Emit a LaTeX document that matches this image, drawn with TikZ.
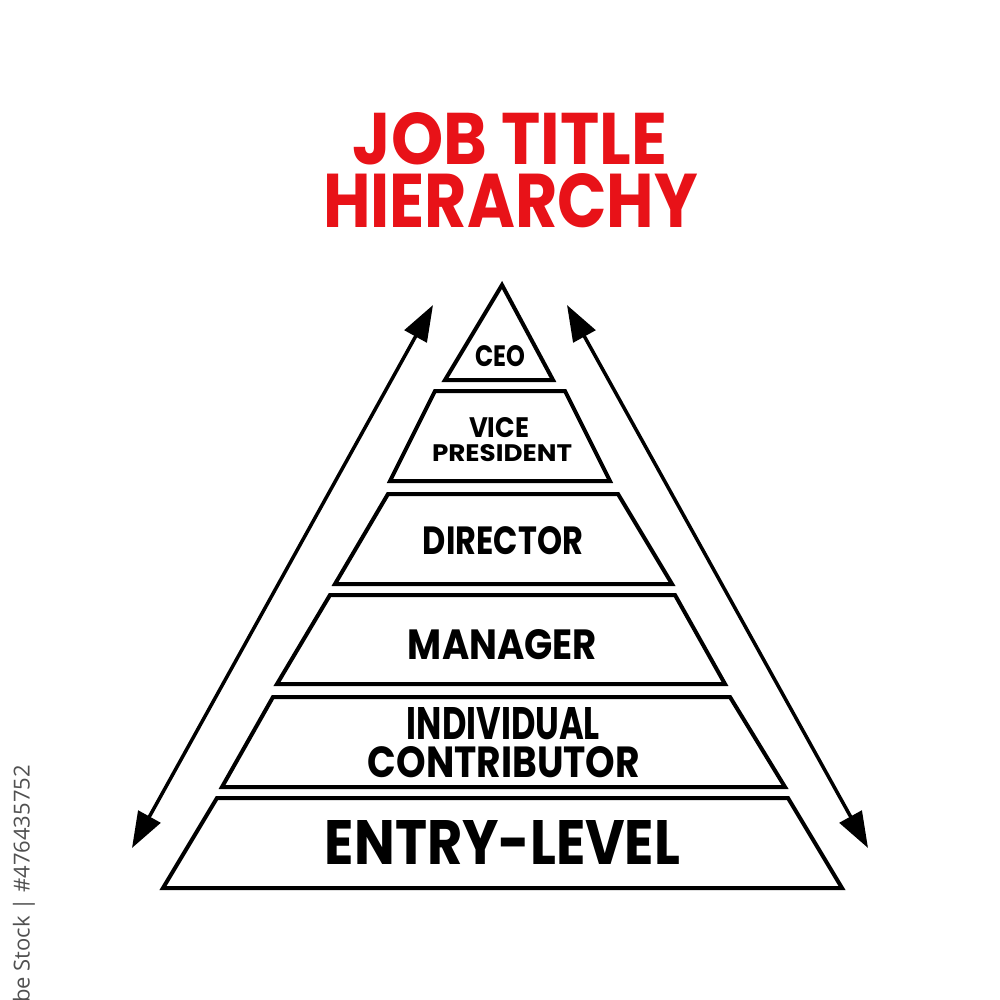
\documentclass[tikz,border=0pt]{standalone}
\usepackage{fontspec}
\setmainfont{Poppins}
\newfontfamily\wmfont{Open Sans}
\usetikzlibrary{arrows.meta}
\definecolor{titlered}{RGB}{232,18,24}
\definecolor{wmgray}{RGB}{80,80,80}
\tikzset{
  layer/.style={draw=black, line width=4pt, line join=miter, fill=white},
  lbl/.style={inner sep=0pt, outer sep=0pt, font=\bfseries, text=black},
  ttl/.style={inner sep=0pt, outer sep=0pt, font=\bfseries, text=titlered},
  dbl/.style={line width=3.5pt, {Triangle[length=36pt,width=25pt]}-{Triangle[length=36pt,width=25pt]}},
}
\newcommand{\fitbox}[3]{\resizebox{#1pt}{#2pt}{#3}}
\begin{document}
\begin{tikzpicture}[x=1pt,y=-1pt]
\useasboundingbox (0,0) rectangle (1000,1000);
\fill[white] (0,0) rectangle (1000,1000);

% title
\node[ttl] (t1) at (510,138.5) {\fitbox{314}{52}{JOB TITLE}};
\node[ttl] (t2) at (510.5,200.5) {\fitbox{375}{54}{HIERARCHY}};

% layers
\draw[layer] (502,285) -- (553,380) -- (445,380) -- cycle;
\draw[layer] (435,391) -- (565,391) -- (610,481) -- (390,481) -- cycle;
\draw[layer] (388,494) -- (618,494) -- (672,584) -- (335,584) -- cycle;
\draw[layer] (330,595) -- (675,595) -- (725,684) -- (277,684) -- cycle;
\draw[layer] (273,697) -- (730,697) -- (785,787) -- (222,787) -- cycle;
\draw[layer] (217,798) -- (788,798) -- (842,888) -- (163,888) -- cycle;

% labels
\node[lbl] (ceo) at (500,356) {\fitbox{50}{21}{CEO}};
\node[lbl] (vp1) at (499,428) {\fitbox{60}{20}{VICE}};
\node[lbl] (vp2) at (502,453.5) {\fitbox{140}{17}{PRESIDENT}};
\node[lbl] (dir) at (503,541) {\fitbox{160}{28}{DIRECTOR}};
\node[lbl] (man) at (502.5,645) {\fitbox{189}{30}{MANAGER}};
\node[lbl] (ind1) at (503.5,724) {\fitbox{193}{32}{INDIVIDUAL}};
\node[lbl] (ind2) at (504,762) {\fitbox{272}{31}{CONTRIBUTOR}};
\node[lbl] (ent) at (502.5,842) {\fitbox{355}{44}{ENTRY-LEVEL}};

% arrows
\coordinate (lt) at (433,305);
\coordinate (lb) at (132,848);
\coordinate (rt) at (567,305);
\coordinate (rb) at (868,848);
\draw[dbl] (lb) -- (lt);
\draw[dbl] (rt) -- (rb);

% side watermark id
\begin{scope}
\clip (0,0) rectangle (1000,1000);
\node[rotate=90, anchor=east, inner sep=0pt, font=\wmfont\fontsize{22}{22}\selectfont, text=wmgray] (wm) at (24,765) {Adobe Stock | \#476435752};
\end{scope}
\end{tikzpicture}
\end{document}
